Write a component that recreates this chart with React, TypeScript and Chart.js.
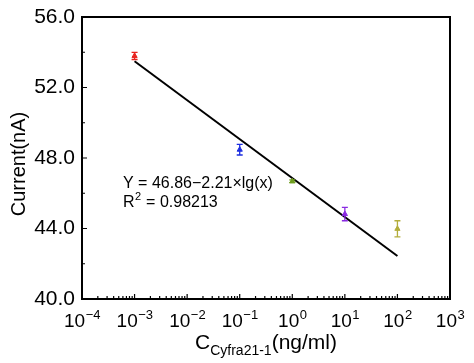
import React, { useEffect, useRef } from "react";
import { Chart, registerables } from "chart.js";

Chart.register(...registerables);

const concentrations = [1e-3, 1e-1, 1, 10, 100];
const currents = [53.79, 48.47, 46.68, 44.82, 43.98];
const errors = [0.2, 0.3, 0.08, 0.38, 0.46];
const pointColors = ["#e8231f", "#1d2ee0", "#6e9e1e", "#8a2be2", "#b3ad3c"];

const fitIntercept = 46.86;
const fitSlope = -2.21;
const fitRange = [1e-3, 100];

const xExponents = [-4, -3, -2, -1, 0, 1, 2, 3];
const yTicks = [40, 44, 48, 52, 56];
const yMinorTicks = [42, 46, 50, 54];

const FONT = '"Liberation Sans", Arial, Helvetica, sans-serif';

const decorPlugin = {
  id: "decor",
  afterDatasetsDraw(chart: any) {
    const ctx = chart.ctx;
    const x = chart.scales.x;
    const y = chart.scales.y;
    ctx.save();
    ctx.lineWidth = 1.3;
    concentrations.forEach((c, i) => {
      const px = x.getPixelForValue(c);
      const top = y.getPixelForValue(currents[i] + errors[i]);
      const bot = y.getPixelForValue(currents[i] - errors[i]);
      ctx.strokeStyle = pointColors[i];
      ctx.beginPath();
      ctx.moveTo(px, top);
      ctx.lineTo(px, bot);
      ctx.moveTo(px - 3, top);
      ctx.lineTo(px + 3, top);
      ctx.moveTo(px - 3, bot);
      ctx.lineTo(px + 3, bot);
      ctx.stroke();
    });
    ctx.restore();
  },
  afterDraw(chart: any) {
    const ctx = chart.ctx;
    const a = chart.chartArea;
    const x = chart.scales.x;
    const y = chart.scales.y;
    ctx.save();
    ctx.strokeStyle = "#000";
    ctx.lineWidth = 2;
    ctx.strokeRect(a.left, a.top, a.right - a.left, a.bottom - a.top);

    ctx.lineWidth = 1.2;
    ctx.beginPath();
    for (let e = xExponents[0]; e < xExponents[xExponents.length - 1]; e++) {
      for (let m = 1; m <= 9; m++) {
        const px = x.getPixelForValue(m * Math.pow(10, e));
        const len = m === 1 ? 5 : 3;
        ctx.moveTo(px, a.bottom);
        ctx.lineTo(px, a.bottom - len);
      }
    }
    yTicks.forEach((v) => {
      const py = y.getPixelForValue(v);
      ctx.moveTo(a.left, py);
      ctx.lineTo(a.left + 5, py);
    });
    yMinorTicks.forEach((v) => {
      const py = y.getPixelForValue(v);
      ctx.moveTo(a.left, py);
      ctx.lineTo(a.left + 3, py);
    });
    ctx.stroke();

    ctx.fillStyle = "#000";
    ctx.font = `21px ${FONT}`;
    ctx.textAlign = "right";
    ctx.textBaseline = "middle";
    yTicks.forEach((v) => {
      ctx.fillText(v.toFixed(1), a.left - 7, y.getPixelForValue(v));
    });

    ctx.textAlign = "left";
    ctx.textBaseline = "alphabetic";
    xExponents.forEach((e) => {
      const px = x.getPixelForValue(Math.pow(10, e));
      const exp = e < 0 ? "\u2212" + Math.abs(e) : String(e);
      ctx.font = `19px ${FONT}`;
      const w1 = ctx.measureText("10").width;
      ctx.font = `13px ${FONT}`;
      const w2 = ctx.measureText(exp).width;
      const start = px - (w1 + w2) / 2;
      ctx.font = `19px ${FONT}`;
      ctx.fillText("10", start, a.bottom + 28);
      ctx.font = `13px ${FONT}`;
      ctx.fillText(exp, start + w1 + 0.5, a.bottom + 20);
    });

    const t1 = "C";
    const t2 = "Cyfra21-1";
    const t3 = "(ng/ml)";
    ctx.font = `21px ${FONT}`;
    const tw1 = ctx.measureText(t1).width;
    const tw3 = ctx.measureText(t3).width;
    ctx.font = `14px ${FONT}`;
    const tw2 = ctx.measureText(t2).width;
    const cx = (a.left + a.right) / 2;
    let sx = cx - (tw1 + tw2 + tw3) / 2;
    const base = a.bottom + 50;
    ctx.font = `21px ${FONT}`;
    ctx.fillText(t1, sx, base);
    sx += tw1;
    ctx.font = `14px ${FONT}`;
    ctx.fillText(t2, sx, base + 6);
    sx += tw2;
    ctx.font = `21px ${FONT}`;
    ctx.fillText(t3, sx, base);

    ctx.save();
    ctx.translate(19, (a.top + a.bottom) / 2 + 6);
    ctx.rotate(-Math.PI / 2);
    ctx.font = `20px ${FONT}`;
    ctx.textAlign = "center";
    ctx.textBaseline = "middle";
    ctx.fillText("Current(nA)", 0, 0);
    ctx.restore();

    ctx.font = `16px ${FONT}`;
    ctx.textAlign = "left";
    ctx.textBaseline = "alphabetic";
    const eqX = 123;
    ctx.fillText(
      `Y = ${fitIntercept.toFixed(2)}\u2212${Math.abs(fitSlope).toFixed(2)}\u00d7lg(x)`,
      eqX,
      188
    );
    ctx.fillText("R", eqX, 207);
    const rw = ctx.measureText("R").width;
    ctx.font = `11px ${FONT}`;
    ctx.fillText("2", eqX + rw + 0.5, 200);
    const sw = ctx.measureText("2").width;
    ctx.font = `16px ${FONT}`;
    ctx.fillText(" = 0.98213", eqX + rw + sw + 1, 207);

    ctx.restore();
  },
};

export default function App() {
  const ref = useRef<HTMLCanvasElement | null>(null);
  useEffect(() => {
    if (!ref.current) return;
    const fitData = fitRange.map((c) => ({ x: c, y: fitIntercept + fitSlope * Math.log10(c) }));
    const chart = new Chart(ref.current, {
      type: "scatter",
      data: {
        datasets: [
          {
            type: "scatter",
            data: concentrations.map((c, i) => ({ x: c, y: currents[i] })),
            backgroundColor: pointColors,
            borderColor: pointColors,
            pointStyle: "triangle",
            pointRadius: 3,
            order: 1,
          } as any,
          {
            type: "line",
            data: fitData,
            borderColor: "#000",
            borderWidth: 2,
            pointRadius: 0,
            fill: false,
            order: 2,
          } as any,
        ],
      },
      options: {
        responsive: false,
        animation: false,
        layout: { padding: { left: 82, right: 24, top: 17, bottom: 64 } },
        plugins: { legend: { display: false }, tooltip: { enabled: false } },
        scales: {
          x: { type: "logarithmic", min: 1e-4, max: 1e3, display: false },
          y: { type: "linear", min: 40, max: 56, display: false },
        },
      },
      plugins: [decorPlugin],
    });
    return () => chart.destroy();
  }, []);
  return (
    <div style={{ position: "fixed", left: 0, top: 0, width: 474, height: 363, background: "#fff" }}>
      <canvas ref={ref} width={474} height={363} style={{ display: "block" }} />
    </div>
  );
}
